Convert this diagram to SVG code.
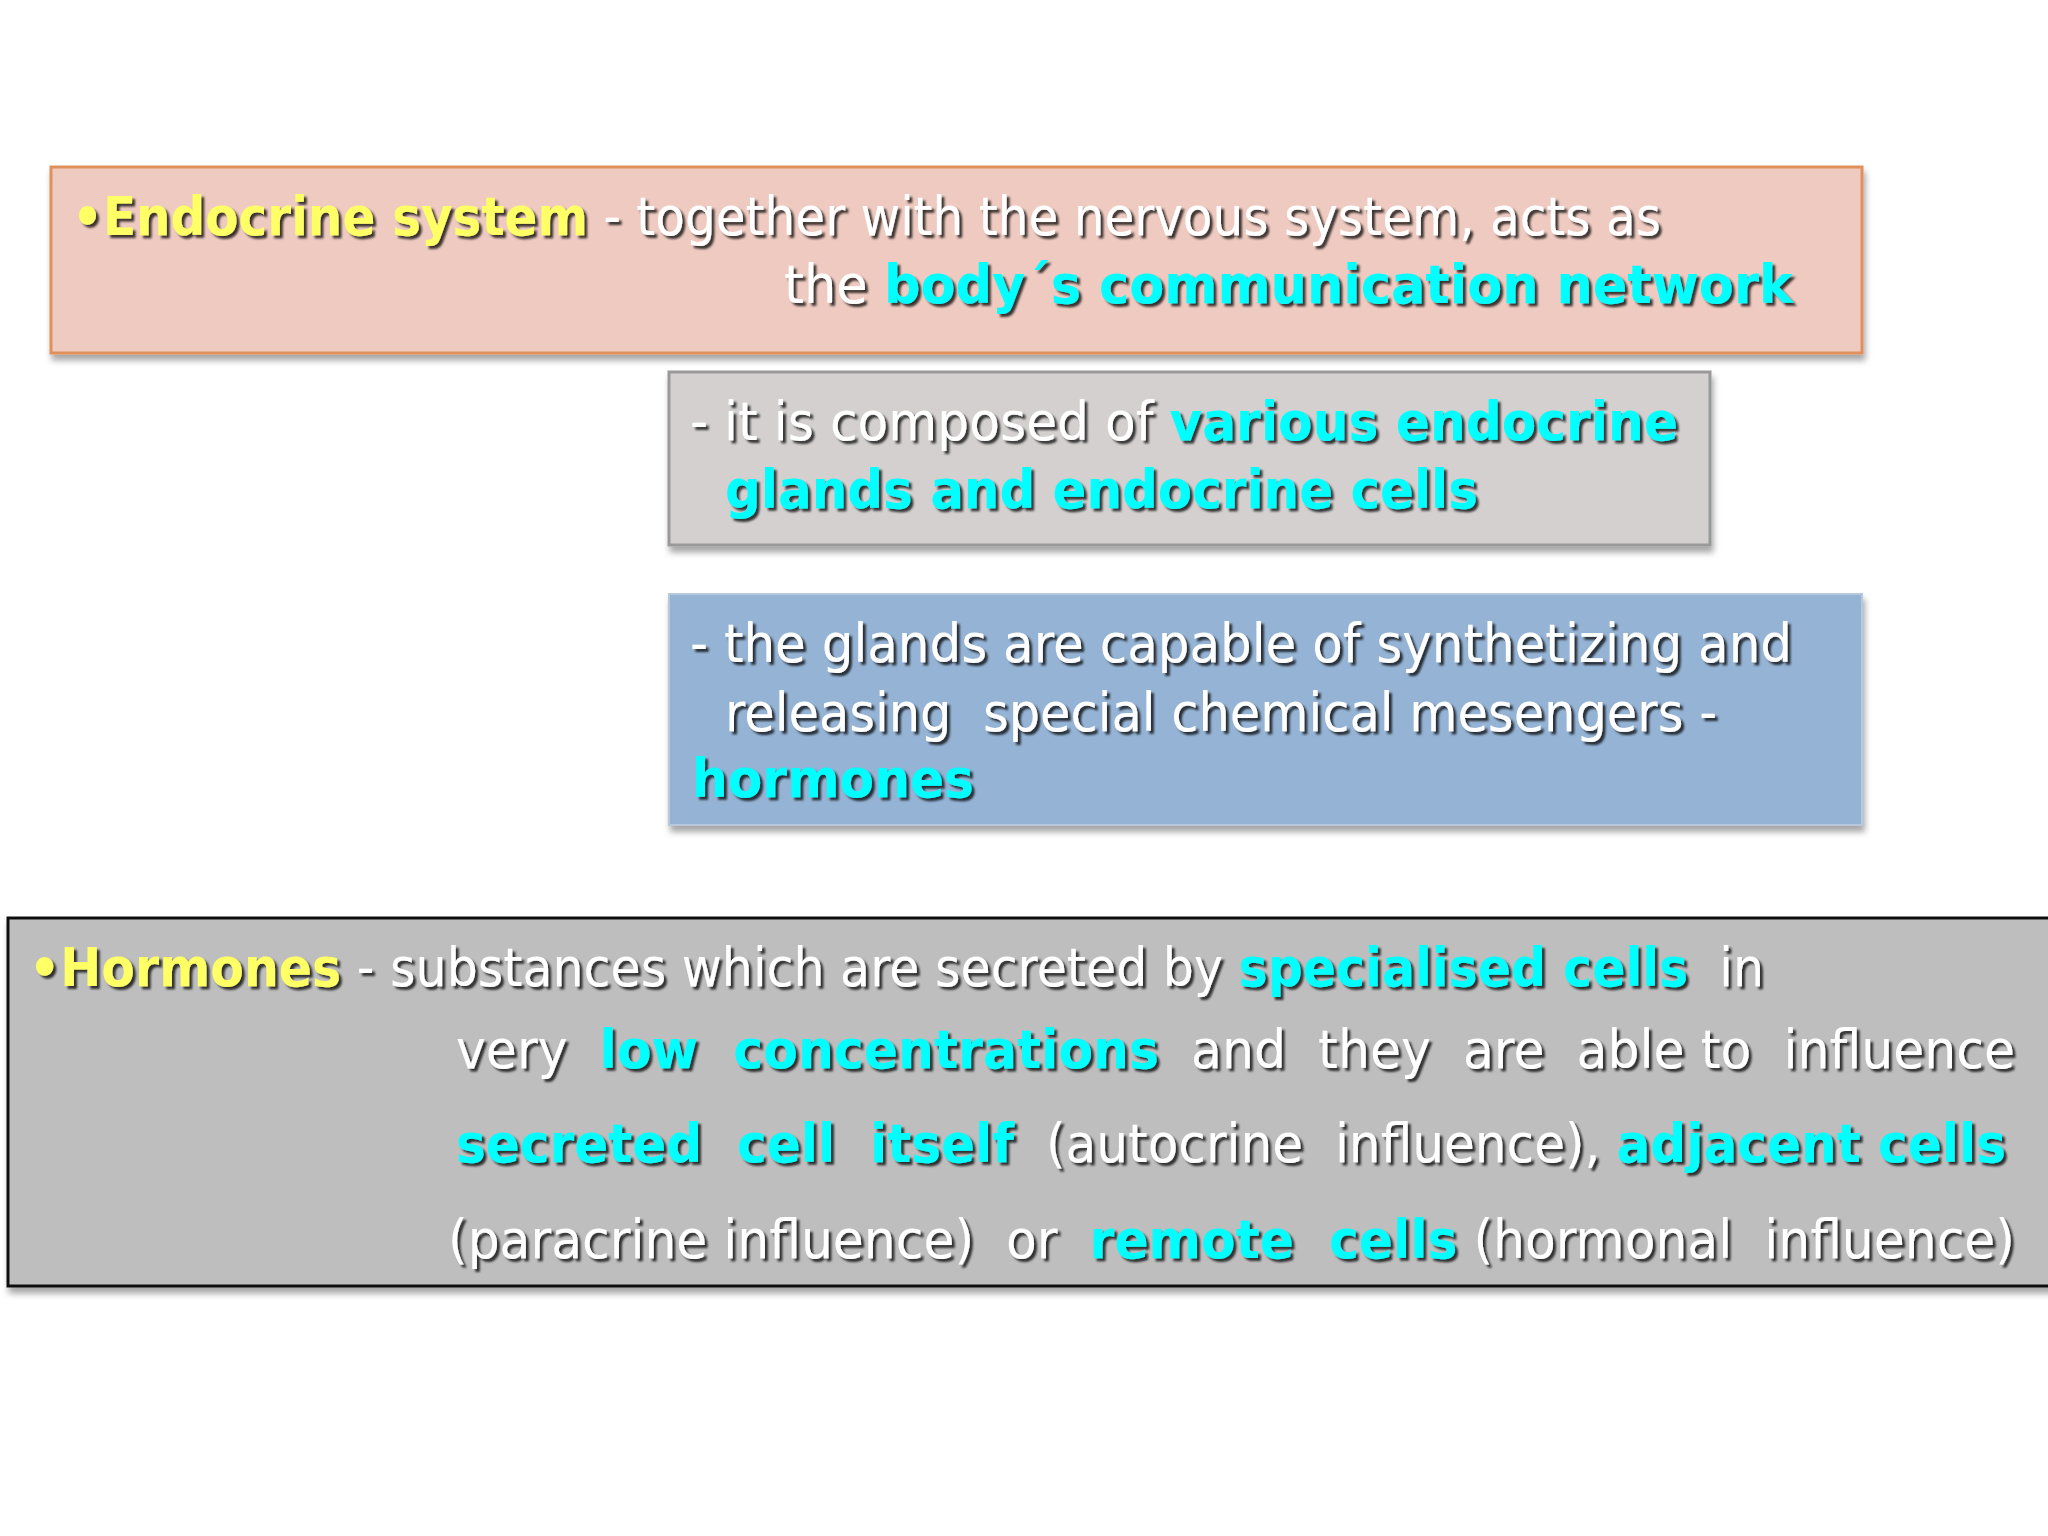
<svg xmlns="http://www.w3.org/2000/svg" width="2048" height="1536" viewBox="0 0 2048 1536">
<defs>
<filter id="sh" x="-5%" y="-20%" width="110%" height="150%"><feDropShadow dx="3" dy="3" stdDeviation="1" flood-color="#000" flood-opacity="0.75"/></filter>
<filter id="bs" x="-5%" y="-10%" width="110%" height="130%"><feDropShadow dx="2" dy="6" stdDeviation="3" flood-color="#000" flood-opacity="0.35"/></filter>
</defs>
<style>
text{font-family:"DejaVu Sans","Liberation Sans",sans-serif;font-size:54px;fill:#fff;filter:url(#sh)}
.y{fill:#ffff66;font-weight:bold}
.c{fill:#00ffff;font-weight:bold}
</style>
<rect width="2048" height="1536" fill="#fff"/>
<g id="n1">
<rect x="51" y="167" width="1811" height="186" fill="#eecac0" stroke="#e0905a" stroke-width="3" filter="url(#bs)"/>
<text x="72" y="235" textLength="1589" lengthAdjust="spacingAndGlyphs"><tspan class="y">•Endocrine system</tspan> - together with the nervous system, acts as</text>
<text x="784" y="303" textLength="1009" lengthAdjust="spacingAndGlyphs">the <tspan class="c">body´s communication network</tspan></text>
</g>
<g id="n2">
<rect x="669" y="372" width="1041" height="173" fill="#d4d0d0" stroke="#999" stroke-width="3" filter="url(#bs)"/>
<text x="690" y="440" textLength="988" lengthAdjust="spacingAndGlyphs">- it is composed of <tspan class="c">various endocrine</tspan></text>
<text x="725" y="508" textLength="753" lengthAdjust="spacingAndGlyphs" class="c">glands and endocrine cells</text>
</g>
<g id="n3">
<rect x="669" y="594" width="1193" height="231" fill="#95b3d4" stroke="#b8c8dc" stroke-width="2" filter="url(#bs)"/>
<text x="690" y="662" textLength="1102" lengthAdjust="spacingAndGlyphs">- the glands are capable of synthetizing and</text>
<text x="725" y="731" textLength="992" lengthAdjust="spacingAndGlyphs" xml:space="preserve">releasing  special chemical mesengers -</text>
<text x="692" y="797" textLength="282" lengthAdjust="spacingAndGlyphs" class="c">hormones</text>
</g>
<g id="n4">
<rect x="8" y="918" width="2060" height="368" fill="#bfbebe" stroke="#111" stroke-width="3" filter="url(#bs)"/>
<text x="29" y="986" textLength="1735" lengthAdjust="spacingAndGlyphs" xml:space="preserve"><tspan class="y">•Hormones</tspan> - substances which are secreted by <tspan class="c">specialised cells</tspan>  in</text>
<text x="456" y="1068" textLength="1559" lengthAdjust="spacingAndGlyphs" xml:space="preserve">very  <tspan class="c">low  concentrations</tspan>  and  they  are  able to  influence</text>
<text x="456" y="1162" textLength="1550" lengthAdjust="spacingAndGlyphs" xml:space="preserve"><tspan class="c">secreted  cell  itself</tspan>  (autocrine  influence), <tspan class="c">adjacent cells</tspan></text>
<text x="448" y="1258" textLength="1567" lengthAdjust="spacingAndGlyphs" xml:space="preserve">(paracrine influence)  or  <tspan class="c">remote  cells</tspan> (hormonal  influence)</text>
</g>
<g id="connectors"/>
</svg>
